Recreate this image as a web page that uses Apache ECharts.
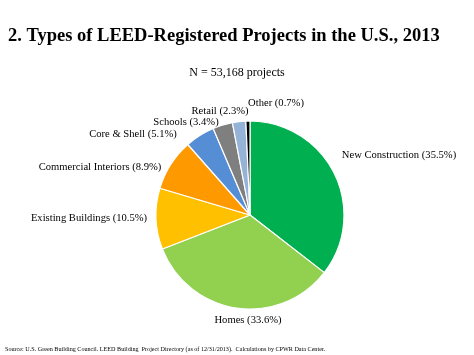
<!DOCTYPE html>
<html><head><meta charset="utf-8">
<script src="https://cdn.jsdelivr.net/npm/echarts@6/dist/echarts.min.js"></script>
<style>html,body{margin:0;padding:0;background:#fff}#c{width:474px;height:355px}</style>
</head><body><div id="c"></div>
<script>
const titleText = '2. Types of LEED-Registered Projects in the U.S., 2013';
const subtitleText = 'N = 53,168 projects';
const sourceText = 'Source: U.S. Green Building Council. LEED Building  Project Directory (as of 12/31/2013).  Calculations by CPWR Data Center.';
const categories = ['New Construction','Homes','Existing Buildings','Commercial Interiors','Core & Shell','Schools','Retail','Other'];
const shares = [35.5, 33.6, 10.5, 8.9, 5.1, 3.4, 2.3, 0.7];
const colors = ['#00B050','#92D050','#FFC000','#FF9900','#558ED5','#7F7F7F','#95B3D7','#000000'];

// label centres (layout only, not data)
const labelSpots = [[399,155],[248,320],[89,218],[100,167],[133,134],[186,122],[220,111],[276,103]];

const serif = '"Liberation Serif","Times New Roman",serif';
const chart = echarts.init(document.getElementById('c'));
chart.setOption({
  animation: false,
  title: [
    {text: titleText, left: 3, top: 22, textStyle:{fontFamily: serif, fontSize: 18.5, fontWeight:'bold', color:'#000'}},
    {text: subtitleText, left: 'center', top: 62, textStyle:{fontFamily: serif, fontSize: 12, fontWeight:'normal', color:'#000'}},
    {text: sourceText, left: 0, top: 341, textStyle:{fontFamily: serif, fontSize: 6.15, fontWeight:'normal', color:'#000'}}
  ],
  series: [{
    type: 'pie',
    center: [250, 215],
    radius: [0, 94],
    startAngle: 90,
    clockwise: true,
    itemStyle: {borderColor:'#fff', borderWidth: 1.2},
    label: {show:true, position:'outside', fontFamily: serif, fontSize: 10.6, color:'#000', overflow:'none',
      formatter: p => p.name + ' (' + p.value.toFixed(1) + '%)'},
    labelLine: {show:false},
    labelLayout: p => ({x: labelSpots[p.dataIndex][0], y: labelSpots[p.dataIndex][1], align:'center', verticalAlign:'middle', hideOverlap:false}),
    data: categories.map((n,i)=>({name:n, value:shares[i], itemStyle:{color:colors[i]}}))
  }]
});
</script></body></html>
